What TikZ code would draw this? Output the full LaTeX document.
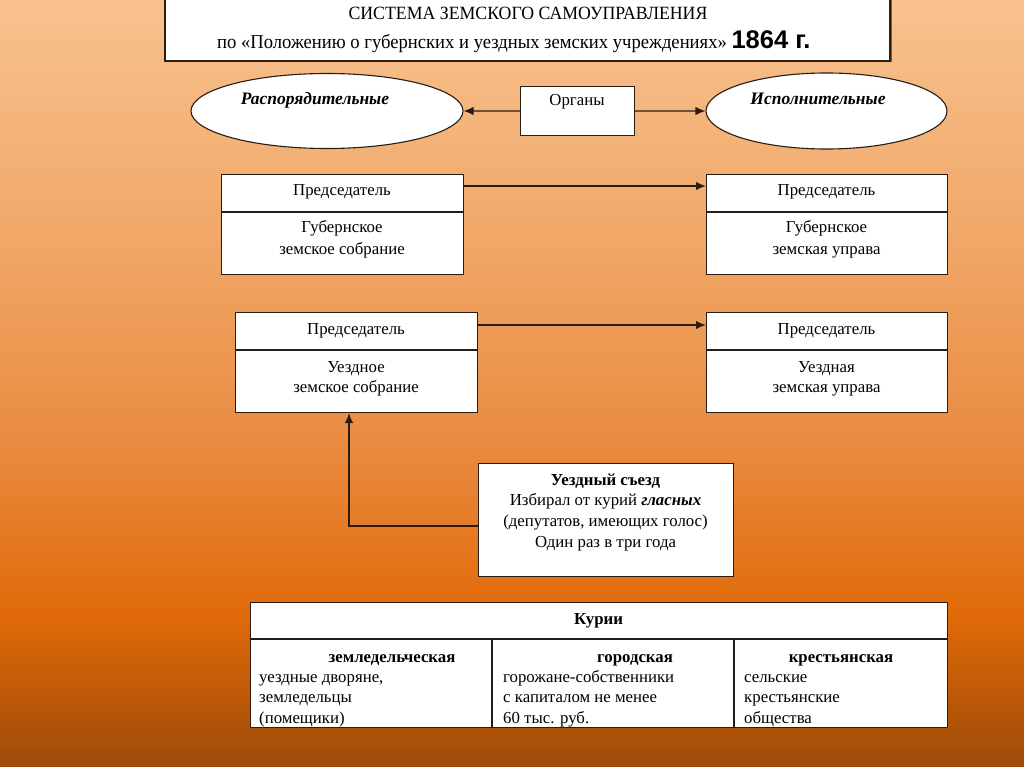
\documentclass[tikz,border=0pt]{standalone}
\usepackage{fontspec}
\setmainfont{Liberation Serif}
\newfontfamily\condserif[FakeStretch=0.95]{Liberation Serif}
\newfontfamily\sansb{Liberation Sans}
\usetikzlibrary{arrows.meta,shapes.geometric}
\definecolor{bg1}{RGB}{248,194,143}
\definecolor{bg2}{RGB}{240,166,102}
\definecolor{bg3}{RGB}{233,138,62}
\definecolor{bg4}{RGB}{225,106,8}
\definecolor{bg5}{RGB}{158,74,8}
\definecolor{edge}{RGB}{40,28,20}
\newcommand\fsz{\fontsize{16.8}{20}\selectfont}
\begin{document}
\begin{tikzpicture}[x=1pt,y=-1pt,
  box/.style={draw=edge, line width=1.1pt, fill=white, inner sep=0pt, anchor=north west},
  oval/.style={ellipse, draw=edge, line width=1.1pt, fill=white, inner sep=0pt},
  txt/.style={inner sep=0pt, anchor=base, font=\fsz},
  ltxt/.style={inner sep=0pt, anchor=base west, font=\fsz},
  arr/.style={draw=edge, line width=1.4pt, -{Latex[length=10pt,width=8.5pt]}},
  rule/.style={draw=edge, line width=1.1pt},
]
\useasboundingbox (0,0) rectangle (1024,767);
% background gradient
\fill[top color=bg1,bottom color=bg2] (0,0) rectangle (1024,250.5);
\fill[top color=bg2,bottom color=bg3] (0,250) rectangle (1024,450.5);
\fill[top color=bg3,bottom color=bg4] (0,450) rectangle (1024,615.5);
\fill[top color=bg4,bottom color=bg5] (0,615) rectangle (1024,767);

% title
\fill[edge!70] (166,0) rectangle (892,62);
\node[box, line width=1.8pt, minimum width=725pt, minimum height=63pt] (title) at (164,-3) {};
\node[txt, font=\condserif\fontsize{18.7}{22}\selectfont] (t1) at (528,20) {СИСТЕМА ЗЕМСКОГО САМОУПРАВЛЕНИЯ};
\node[ltxt, font=\condserif\fontsize{19.6}{22}\selectfont] (t2) at (217,49) {по «Положению о губернских и уездных земских учреждениях» {\sansb\bfseries\fontsize{25.5}{28}\selectfont 1864 г.}};

% organs
\node[oval, minimum width=272pt, minimum height=75pt] (rasp) at (327,111) {};
\node[txt, font=\fontsize{17.5}{20}\selectfont\bfseries\itshape] (raspt) at (315,105) {Распорядительные};
\node[oval, minimum width=241pt, minimum height=76pt] (isp) at (826.5,111) {};
\node[txt, font=\fontsize{17.5}{20}\selectfont\bfseries\itshape] (ispt) at (818,105) {Исполнительные};
\node[box, minimum width=114pt, minimum height=49pt] (org) at (520,86) {};
\node[txt] (orgt) at (577,106) {Органы};
\draw[arr] (org.west) -- (rasp.east);
\draw[arr] (org.east) -- (isp.west);

% gubernia level
\node[box, minimum width=242pt, minimum height=100pt] (gs) at (221,174) {};
\draw[rule] ([yshift=-38pt]gs.north west) -- ([yshift=-38pt]gs.north east);
\node[txt] (gs1) at (342,196) {Председатель};
\node[txt] (gs2) at (342,233) {Губернское};
\node[txt] (gs3) at (342,254) {земское собрание};

\node[box, minimum width=241pt, minimum height=100pt] (gu) at (706,174) {};
\draw[rule] ([yshift=-38pt]gu.north west) -- ([yshift=-38pt]gu.north east);
\node[txt] (gu1) at (826.5,196) {Председатель};
\node[txt] (gu2) at (826.5,233) {Губернское};
\node[txt] (gu3) at (826.5,254) {земская управа};
\draw[arr] ([yshift=-12pt]gs.north east) -- ([yshift=-12pt]gu.north west);

% uezd level
\node[box, minimum width=242pt, minimum height=100pt] (us) at (235,312) {};
\draw[rule] ([yshift=-38pt]us.north west) -- ([yshift=-38pt]us.north east);
\node[txt] (us1) at (356,334) {Председатель};
\node[txt] (us2) at (356,372) {Уездное};
\node[txt] (us3) at (356,392) {земское собрание};

\node[box, minimum width=241pt, minimum height=100pt] (uu) at (706,312) {};
\draw[rule] ([yshift=-38pt]uu.north west) -- ([yshift=-38pt]uu.north east);
\node[txt] (uu1) at (826.5,334) {Председатель};
\node[txt] (uu2) at (826.5,372) {Уездная};
\node[txt] (uu3) at (826.5,392) {земская управа};
\draw[arr] ([yshift=-13pt]us.north east) -- ([yshift=-13pt]uu.north west);

% uezd congress
\node[box, minimum width=255pt, minimum height=113pt] (sz) at (478,463) {};
\node[txt, font=\fsz\bfseries] (sz1) at (605.5,485) {Уездный съезд};
\node[txt] (sz2) at (605.5,505) {Избирал от курий \textbf{\textit{гласных}}};
\node[txt] (sz3) at (605.5,526) {(депутатов, имеющих голос)};
\node[txt] (sz4) at (605.5,547) {Один раз в три года};
\coordinate (k) at (349,526);
\draw[arr] (sz.west |- k) -- (k) -- (k |- us.south);

% curiae table
\node[box, minimum width=697pt, minimum height=125pt] (tab) at (250,602) {};
\draw[rule] ([yshift=-37pt]tab.north west) -- ([yshift=-37pt]tab.north east);
\draw[rule] (492,639) -- (492,727);
\draw[rule] (734,639) -- (734,727);
\node[txt, font=\fsz\bfseries] (kur) at (598.5,624) {Курии};
\node[txt, font=\fsz\bfseries] (c1h) at (392,662) {земледельческая};
\node[ltxt] (c1a) at (259,682) {уездные дворяне,};
\node[ltxt] (c1b) at (259,702) {земледельцы};
\node[ltxt] (c1c) at (259,723) {(помещики)};
\node[txt, font=\fsz\bfseries] (c2h) at (635,662) {городская};
\node[ltxt] (c2a) at (503,682) {горожане-собственники};
\node[ltxt] (c2b) at (503,702) {с капиталом не менее};
\node[ltxt] (c2c) at (503,723) {60 тыс. руб.};
\node[txt, font=\fsz\bfseries] (c3h) at (841,662) {крестьянская};
\node[ltxt] (c3a) at (744,682) {сельские};
\node[ltxt] (c3b) at (744,702) {крестьянские};
\node[ltxt] (c3c) at (744,723) {общества};
\end{tikzpicture}
\end{document}
